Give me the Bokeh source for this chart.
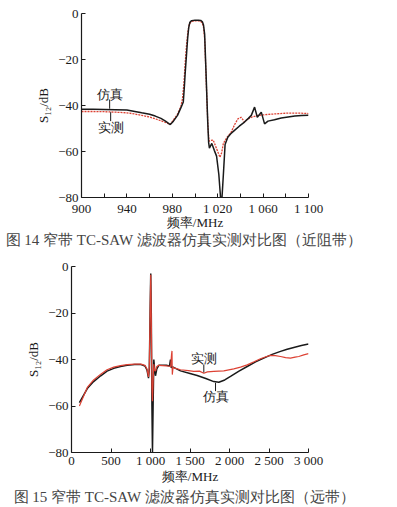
from bokeh.plotting import figure
from bokeh.models import FixedTicker, Title, Label
from bokeh.embed import file_html
from bokeh.resources import INLINE
from bokeh.core.properties import value

# ---------------- Fig. 14 (near stopband) ----------------
f14_sim = [(900, -41.6), (910, -41.6), (920, -41.7), (930, -41.8), (940, -42.0), (947, -42.6),
           (953, -43.2), (960, -43.8), (965, -44.6), (970, -45.6), (974, -46.8), (978.2, -48.3),
           (981, -46.8), (984.6, -44.3), (988, -40.5), (989.7, -38.5), (990.6, -32), (991.4, -25.5),
           (992.5, -18), (993.5, -11), (994.5, -6), (995.5, -3.8), (997, -3.1), (1000, -2.9),
           (1003, -2.9), (1005, -3.0), (1006.5, -3.6), (1007.5, -5), (1008.5, -9), (1009.7, -25.5),
           (1011.2, -47), (1012, -56), (1012.7, -58.5), (1014.8, -56.5), (1017, -59.5), (1019, -62),
           (1021, -70), (1022.5, -80), (1023.8, -80), (1025, -70), (1026.5, -57), (1028.9, -53.8),
           (1031.5, -52.3), (1034.8, -50.8), (1039, -49), (1043.6, -47.2), (1047, -45.6),
           (1049.6, -44.3), (1052.5, -40.7), (1054.9, -45.1), (1058.4, -42.9), (1061.3, -48),
           (1064.3, -46.8), (1070, -46.2), (1076, -45.4), (1082, -45.0), (1088, -44.6),
           (1094, -44.4), (1100, -44.2)]
f14_meas = [(900, -42.6), (910, -42.6), (920, -42.7), (930, -42.9), (940, -43.2), (947, -43.7),
            (953, -44.3), (960, -45.0), (965, -45.8), (972, -47.0), (978.2, -48.2), (981, -46.3),
            (984.6, -43.8), (987.5, -40.5), (989, -37), (990.3, -30), (991.3, -22), (992.5, -14),
            (993.7, -8), (995, -4.5), (997, -3.4), (1000, -3.2), (1003, -3.2), (1005, -3.4),
            (1006.5, -4.2), (1007.5, -6), (1008.5, -11), (1009.5, -24), (1010.5, -38),
            (1011.3, -48), (1012.3, -55.5), (1014, -55.2), (1016, -55), (1018, -57.5), (1020, -60),
            (1022, -62.5), (1023.5, -60.5), (1025, -56.5), (1028, -54), (1031.9, -51.6),
            (1035, -48.2), (1037.8, -45.8), (1040.7, -45.1), (1043.6, -47.2), (1046, -46),
            (1050, -45.1), (1055.5, -44.3), (1064, -43.9), (1072, -43.6), (1082, -43.3),
            (1091, -43.3), (1100, -43.5)]
f14_xticks = [900, 920, 940, 960, 980, 1000, 1020, 1040, 1060, 1080, 1100]
f14_xlabels = {900: "900", 920: "", 940: "940", 960: "", 980: "980", 1000: "",
               1020: "1 020", 1040: "", 1060: "1 060", 1080: "", 1100: "1 100"}
f14_caption = "图 14   窄带 TC-SAW 滤波器仿真实测对比图（近阻带）"

# ---------------- Fig. 15 (far band) ----------------
f15_sim = [(100, -58.5), (150, -55.5), (200, -52.5), (280, -49.5), (370, -47), (450, -45),
           (535, -43.8), (620, -43), (705, -42.5), (800, -42.2), (880, -42.2), (930, -42.8),
           (955, -44.5), (975, -48), (985, -44), (995, -20), (1003, -3), (1010, -20), (1018, -60),
           (1025, -80), (1033, -60), (1042, -40), (1052, -44), (1063, -47), (1080, -44),
           (1105, -42.5), (1200, -42.5), (1240, -42.8), (1253, -40), (1262, -43.5), (1280, -43.2),
           (1380, -44.9), (1500, -46), (1591, -46.9), (1700, -48.2), (1801, -49.5), (1865, -49.8),
           (1940, -48.8), (2013, -47.3), (2120, -45), (2224, -43), (2330, -41), (2434, -39.4),
           (2540, -37.8), (2646, -36.5), (2730, -35.6), (2814, -34.8), (2910, -34), (3000, -33.3)]
f15_meas = [(100, -60), (150, -56), (200, -52), (280, -48.8), (370, -46.3), (450, -44.4),
            (535, -43.3), (620, -42.6), (705, -42.2), (800, -42), (880, -42), (930, -42.5),
            (955, -44), (975, -47.5), (985, -43), (995, -20), (1003, -3.5), (1010, -22),
            (1018, -52), (1025, -58), (1033, -50), (1042, -42), (1052, -44.5), (1063, -45),
            (1080, -43), (1105, -42.5), (1200, -42.7), (1255, -43), (1266, -38), (1272, -36.3),
            (1276, -46.5), (1285, -43.5), (1380, -44.4), (1480, -44.8), (1548, -45.1),
            (1620, -45), (1675, -45.9), (1720, -45.3), (1801, -45.1), (1928, -44.9), (2054, -44),
            (2140, -43.3), (2224, -42.3), (2310, -41), (2392, -39.7), (2460, -38.8),
            (2519, -38.2), (2580, -38.3), (2646, -38.7), (2710, -39.2), (2772, -39.4),
            (2830, -39), (2877, -38.7), (2940, -38), (3000, -37.5)]
f15_xticks = [0, 500, 1000, 1500, 2000, 2500, 3000]
f15_xlabels = {0: "0", 500: "500", 1000: "1 000", 1500: "1 500", 2000: "2 000",
               2500: "2 500", 3000: "3 000"}
f15_caption = "图 15   窄带 TC-SAW 滤波器仿真实测对比图（远带）"

y_ticks = [-80, -60, -40, -20, 0]
y_labels = {-80: "\u221280", -60: "\u221260", -40: "\u221240", -20: "\u221220", 0: "0"}

sim_name, meas_name = "仿真", "实测"
watermark = "知乎 @奔跑的"
# annotation positions (data coords): text x, text y, leader y0, leader y1
f14_notes = [(924.8, -35.4, -37.4, -41.4, sim_name), (925.7, -49.8, -42.9, -46.8, meas_name)]
f15_notes = [(1675, -39.6, -42.2, -45.6, meas_name), (1823, -56.3, -50.0, -53.6, sim_name)]

BLACK = "#1a1a1a"
RED = "#dd4234"
SERIF = "Liberation Serif"


def style(p, xticks, xlabels, tick_standoff, label_standoff):
    p.outline_line_color = None
    p.grid.visible = False
    p.xaxis.ticker = FixedTicker(ticks=xticks)
    p.xaxis.major_label_overrides = xlabels
    p.yaxis.ticker = FixedTicker(ticks=y_ticks)
    p.yaxis.major_label_overrides = y_labels
    for ax in (p.xaxis[0], p.yaxis[0]):
        ax.axis_line_color = BLACK
        ax.axis_line_width = 1.2
        ax.major_tick_line_color = BLACK
        ax.major_tick_in = 4
        ax.major_tick_out = 0
        ax.minor_tick_line_color = None
        ax.major_label_text_font = SERIF
        ax.major_label_text_font_size = "13px"
        ax.major_label_text_color = BLACK
        ax.axis_label_text_font = SERIF
        ax.axis_label_text_font_style = "normal"
        ax.axis_label_text_font_size = "13px"
        ax.axis_label_text_color = BLACK
    p.xaxis.axis_label = "频率/MHz"
    p.yaxis.axis_label = "S\u2081\u2082/dB"
    p.xaxis.major_label_standoff = tick_standoff
    p.xaxis.axis_label_standoff = label_standoff
    p.yaxis.major_label_standoff = 3
    p.yaxis.axis_label_standoff = 4


def notes(p, items):
    for tx, ty, y0, y1, txt in items:
        p.segment(x0=[tx], y0=[y0], x1=[tx], y1=[y1], line_color=BLACK, line_width=1)
        p.text(x=[tx], y=[ty], text=[txt], text_font=value(SERIF), text_font_size="12.5px",
               text_align="center", text_baseline="middle", text_color=BLACK)


# ---- top figure
p1 = figure(width=381, height=250, frame_width=227, frame_height=184,
            x_range=(900, 1100), y_range=(-80, 0),
            output_backend="svg", toolbar_location=None,
            min_border_left=81, min_border_right=73, min_border_top=13, min_border_bottom=53)
style(p1, f14_xticks, f14_xlabels, 3, -4)
p1.line([a for a, b in f14_meas], [b for a, b in f14_meas], line_color=RED, line_width=1.3,
        line_dash="2 1")
p1.line([a for a, b in f14_sim], [b for a, b in f14_sim], line_color=BLACK, line_width=1.5)
notes(p1, f14_notes)
p1.add_layout(Title(text=f14_caption, align="left", offset=-76, text_font=SERIF,
                    text_font_size="15px", text_font_style="normal", standoff=-5), "below")

# ---- bottom figure
p2 = figure(width=392, height=256, frame_width=237, frame_height=186,
            x_range=(0, 3000), y_range=(-80, 0),
            output_backend="svg", toolbar_location=None,
            min_border_left=71, min_border_right=84, min_border_top=16, min_border_bottom=54)
style(p2, f15_xticks, f15_xlabels, 0, -2)
p2.line([a for a, b in f15_sim], [b for a, b in f15_sim], line_color=BLACK, line_width=1.5)
p2.line([a for a, b in f15_meas], [b for a, b in f15_meas], line_color=RED, line_width=1.2)
notes(p2, f15_notes)
p2.add_layout(Label(x=3180, y=-95.5, text=watermark, text_color="#c8c8c8",
                    text_font=SERIF, text_font_size="10.5px", text_baseline="middle"))
p2.add_layout(Title(text=f15_caption, align="left", offset=-58, text_font=SERIF,
                    text_font_size="15px", text_font_style="normal", standoff=0), "below")

open("out.html", "w").write(file_html([p1, p2], INLINE))
